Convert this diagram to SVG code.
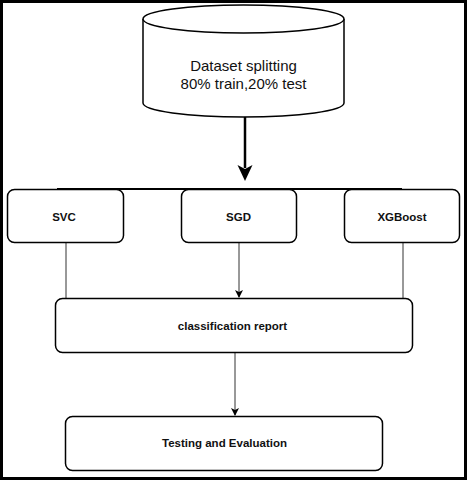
<svg xmlns="http://www.w3.org/2000/svg" width="467" height="480" viewBox="0 0 467 480">
<style>
.box{fill:#fff;stroke:#000;stroke-width:1.5}
.lbl{font-family:"Liberation Sans",Arial,sans-serif;font-size:11.5px;font-weight:bold;fill:#111;text-anchor:middle;dominant-baseline:central}
.big{font-family:"Liberation Sans",Arial,sans-serif;font-size:15px;fill:#111;text-anchor:middle;dominant-baseline:central}
.ln{stroke:#333;stroke-width:1;fill:none}
</style>
<defs>
<marker id="ah" markerWidth="8" markerHeight="8" refX="7" refY="4" orient="auto" markerUnits="userSpaceOnUse">
<path d="M0,0 L8,4 L0,8 L2,4 Z" fill="#000"/>
</marker>
</defs>
<rect x="0" y="0" width="467" height="480" fill="#fff"/>
<rect x="1.5" y="1.5" width="464" height="477" fill="none" stroke="#000" stroke-width="3"/>
<g id="dataset">
<path class="box" d="M143,19 L143,103 A100.5,14 0 0 0 344,103 L344,19" />
<ellipse class="box" cx="243.5" cy="19" rx="100.5" ry="14"/>
<text class="big" x="243.5" y="65">Dataset splitting</text>
<text class="big" x="243.5" y="83">80% train,20% test</text>
</g>
<g id="connectors">
<line x1="245" y1="117" x2="245" y2="168" stroke="#000" stroke-width="2.5"/>
<path d="M237.5,165 L245,181 L252.5,165 L245,169 Z" fill="#000"/>
<line x1="57" y1="189" x2="402" y2="189" stroke="#000" stroke-width="2"/>
<line class="ln" x1="66" y1="243" x2="66" y2="298"/>
<line class="ln" x1="239" y1="243" x2="239" y2="297" marker-end="url(#ah)"/>
<line class="ln" x1="403" y1="243" x2="403" y2="298"/>
<line class="ln" x1="235" y1="353" x2="235" y2="415" marker-end="url(#ah)"/>
</g>
<g id="svc">
<rect class="box" x="7.5" y="189.5" width="116" height="53" rx="7"/>
<text class="lbl" x="64" y="217">SVC</text>
</g>
<g id="sgd">
<rect class="box" x="181.5" y="189.5" width="115" height="53" rx="7"/>
<text class="lbl" x="238.5" y="217">SGD</text>
</g>
<g id="xgboost">
<rect class="box" x="344.5" y="189.5" width="115" height="53" rx="7"/>
<text class="lbl" x="402" y="217">XGBoost</text>
</g>
<g id="report">
<rect class="box" x="55.5" y="298.5" width="357" height="54" rx="7"/>
<text class="lbl" x="232.5" y="326">classification report</text>
</g>
<g id="testing">
<rect class="box" x="65.5" y="416.5" width="317" height="54" rx="7"/>
<text class="lbl" x="224.5" y="443">Testing and Evaluation</text>
</g>
</svg>
